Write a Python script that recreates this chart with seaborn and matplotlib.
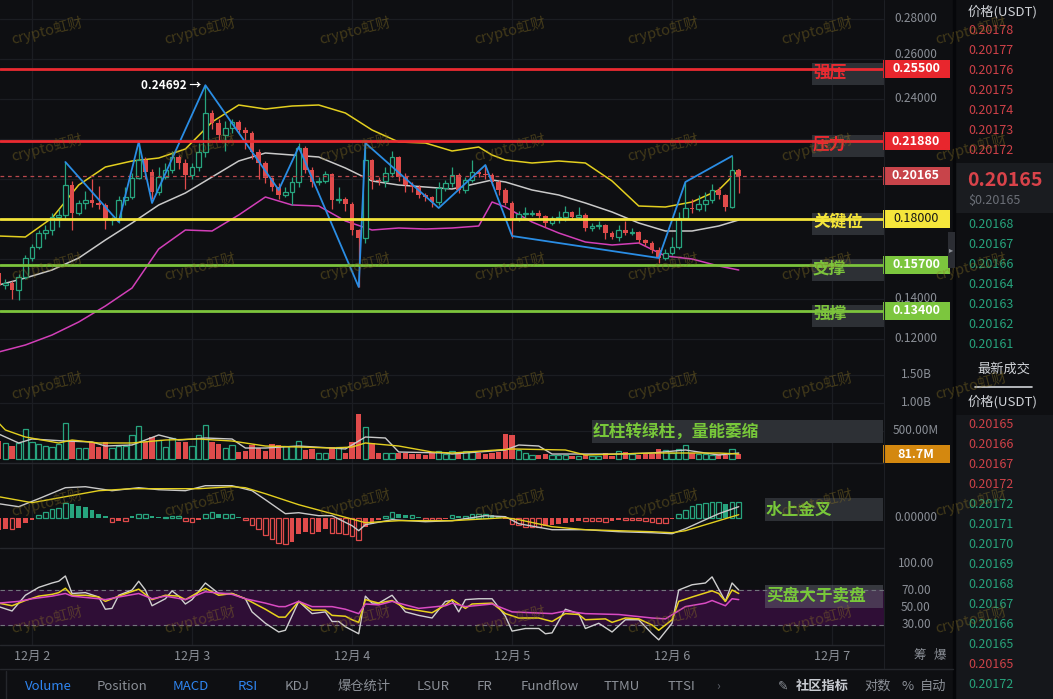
import matplotlib
matplotlib.use('Agg')
import matplotlib.pyplot as plt
import matplotlib.transforms as mtransforms
from matplotlib.patches import Rectangle
from matplotlib.lines import Line2D
import seaborn as sns

# ---------------- data ----------------
# hourly candles, index 0 = 12月1 19:00
first_open = 0.1530
closes = [0.1470, 0.1480, 0.1445, 0.1510, 0.1605, 0.1660, 0.1730, 0.1745, 0.1810, 0.1820,
          0.1970, 0.1830, 0.1880, 0.1895, 0.1880, 0.1870, 0.1795, 0.1800, 0.1895, 0.1910,
          0.2005, 0.2095, 0.2035, 0.1935, 0.2010, 0.2045, 0.2110, 0.2080, 0.2020, 0.2060,
          0.2135, 0.2330, 0.2280, 0.2220, 0.2255, 0.2285, 0.2245, 0.2230, 0.2135, 0.2080,
          0.2005, 0.1960, 0.1920, 0.1935, 0.1985, 0.2155, 0.2045, 0.1985, 0.1990, 0.2025,
          0.1895, 0.1900, 0.1875, 0.1745, 0.1705, 0.2095, 0.1995, 0.1990, 0.2030, 0.2110,
          0.2010, 0.1970, 0.1960, 0.1920, 0.1910, 0.1885, 0.1955, 0.1980, 0.2020, 0.1945,
          0.1995, 0.2035, 0.2025, 0.2020, 0.1985, 0.1945, 0.1880, 0.1805, 0.1825, 0.1827,
          0.1830, 0.1815, 0.1780, 0.1805, 0.1810, 0.1835, 0.1810, 0.1820, 0.1755, 0.1765,
          0.1770, 0.1730, 0.1710, 0.1745, 0.1730, 0.1735, 0.1695, 0.1680, 0.1645, 0.1605,
          0.1630, 0.1660, 0.1805, 0.1855, 0.1850, 0.1875, 0.1895, 0.1945, 0.1920, 0.1860,
          0.2045, 0.20165]
highs = [0.1545, 0.1500, 0.1490, 0.1525, 0.1620, 0.1675, 0.1745, 0.1770, 0.1830, 0.1850,
         0.2085, 0.1990, 0.1895, 0.1940, 0.2000, 0.1965, 0.1880, 0.1810, 0.1915, 0.1960,
         0.2030, 0.2185, 0.2110, 0.2050, 0.2060, 0.2080, 0.2140, 0.2120, 0.2100, 0.2080,
         0.2180, 0.2469, 0.2345, 0.2300, 0.2290, 0.2300, 0.2295, 0.2260, 0.2240, 0.2150,
         0.2090, 0.2010, 0.1980, 0.1960, 0.2010, 0.2180, 0.2165, 0.2060, 0.2010, 0.2040,
         0.2030, 0.1960, 0.1910, 0.1885, 0.1750, 0.2180, 0.2100, 0.2010, 0.2060, 0.2140,
         0.2115, 0.2030, 0.1985, 0.1970, 0.1930, 0.1915, 0.1985, 0.1995, 0.2060, 0.2030,
         0.2010, 0.2095, 0.2045, 0.2070, 0.2030, 0.1995, 0.1955, 0.1890, 0.1840, 0.1860,
         0.1845, 0.1845, 0.1820, 0.1815, 0.1840, 0.1865, 0.1840, 0.1860, 0.1830, 0.1780,
         0.1790, 0.1775, 0.1740, 0.1770, 0.1790, 0.1755, 0.1740, 0.1700, 0.1690, 0.1660,
         0.1650, 0.1710, 0.1835, 0.1985, 0.1900, 0.1920, 0.1935, 0.1975, 0.1960, 0.1925,
         0.2115, 0.2050]
lows = [0.1440, 0.1450, 0.1400, 0.1395, 0.1500, 0.1590, 0.1650, 0.1700, 0.1720, 0.1760,
        0.1800, 0.1745, 0.1820, 0.1850, 0.1860, 0.1850, 0.1750, 0.1770, 0.1780, 0.1870,
        0.1900, 0.2000, 0.2000, 0.1900, 0.1920, 0.2000, 0.2030, 0.2050, 0.1950, 0.2000,
        0.2040, 0.2110, 0.2250, 0.2190, 0.2140, 0.2230, 0.2230, 0.2150, 0.2100, 0.2000,
        0.1980, 0.1940, 0.1900, 0.1910, 0.1870, 0.1960, 0.2030, 0.1960, 0.1970, 0.1980,
        0.1850, 0.1880, 0.1840, 0.1720, 0.1460, 0.1680, 0.1950, 0.1970, 0.1960, 0.2010,
        0.1990, 0.1935, 0.1935, 0.1905, 0.1890, 0.1860, 0.1870, 0.1940, 0.1960, 0.1930,
        0.1930, 0.1985, 0.2010, 0.2000, 0.1970, 0.1920, 0.1870, 0.1705, 0.1790, 0.1800,
        0.1815, 0.1800, 0.1760, 0.1770, 0.1780, 0.1790, 0.1800, 0.1800, 0.1740, 0.1740,
        0.1750, 0.1700, 0.1700, 0.1690, 0.1720, 0.1720, 0.1680, 0.1665, 0.1630, 0.1580,
        0.1595, 0.1620, 0.1650, 0.1800, 0.1830, 0.1840, 0.1840, 0.1880, 0.1900, 0.1840,
        0.1855, 0.1930]
volumes_m = [321, 280, 232, 291, 530, 310, 268, 232, 209, 268,
             637, 339, 191, 191, 310, 220, 298, 202, 232, 232,
             429, 589, 310, 399, 339, 209, 369, 310, 310, 232,
             429, 607, 310, 268, 191, 250, 125, 134, 250, 191,
             134, 259, 250, 241, 232, 321, 161, 187, 116, 116,
             209, 209, 107, 304, 804, 566, 292, 116, 101, 101,
             107, 107, 89, 89, 80, 101, 143, 83, 143, 89,
             148, 143, 101, 89, 101, 120, 446, 423, 161, 101,
             71, 77, 89, 71, 71, 71, 59, 54, 71, 54,
             59, 101, 59, 143, 119, 83, 77, 89, 83, 173,
             161, 101, 173, 250, 101, 83, 83, 71, 83, 77,
             173, 81.7]

# BOLL bands read every few candles
band_idx = [0, 4, 8, 12, 16, 20, 24, 28, 32, 36, 40, 44, 48, 52, 56, 60, 64, 68,
            72, 74, 76, 80, 84, 88, 92, 96, 100, 104, 108, 111]
boll_upper = [0.1715, 0.1710, 0.1805, 0.1970, 0.2060, 0.2090, 0.2105, 0.2150, 0.2285, 0.2370,
              0.2350, 0.2365, 0.2370, 0.2330, 0.2245, 0.2185, 0.2180, 0.2140, 0.2160, 0.2120,
              0.2095, 0.2080, 0.2090, 0.2080, 0.1990, 0.1865, 0.1860, 0.1885, 0.1945, 0.2045]
boll_mid = [0.1470, 0.1505, 0.1545, 0.1605, 0.1695, 0.1780, 0.1870, 0.1930, 0.2010, 0.2090,
            0.2130, 0.2120, 0.2110, 0.2055, 0.1990, 0.1970, 0.1960, 0.1950, 0.1980, 0.1995,
            0.1985, 0.1945, 0.1920, 0.1880, 0.1835, 0.1780, 0.1740, 0.1740, 0.1765, 0.1795]
boll_lower = [0.1135, 0.1170, 0.1220, 0.1285, 0.1365, 0.1455, 0.1650, 0.1745, 0.1740, 0.1820,
              0.1910, 0.1870, 0.1865, 0.1790, 0.1745, 0.1755, 0.1750, 0.1755, 0.1765, 0.1885,
              0.1860, 0.1785, 0.1730, 0.1685, 0.1670, 0.1680, 0.1615, 0.1600, 0.1565, 0.1545]

zigzag_idx = [10, 18, 21, 23, 31, 42, 45, 54, 55, 66, 73, 77, 99, 103, 110]
zigzag_price = [0.2085, 0.1785, 0.2185, 0.1880, 0.2469, 0.1945, 0.2160, 0.1460, 0.2180,
                0.1855, 0.2070, 0.1715, 0.1605, 0.1985, 0.2115]

levels = [0.2550, 0.2188, 0.1800, 0.1570, 0.1340]
level_names = ['强压', '压力', '关键位', '支撑', '强撑']
level_colors = ['#ea2a31', '#ea2a31', '#f3e43a', '#7cc43c', '#7cc43c']

# volume moving averages (index, M)
vol_ma_white = [(0, 446), (3, 286), (5, 357), (10, 321), (14, 304), (16, 232), (20, 250),
                (24, 429), (27, 339), (31, 375), (35, 357), (37, 196), (40, 196), (45, 232),
                (50, 196), (52, 179), (55, 393), (58, 375), (60, 125), (67, 107), (68, 89),
                (76, 161), (78, 250), (81, 232), (83, 89), (93, 89), (98, 107), (103, 161),
                (108, 71), (111, 107)]
vol_ma_yellow = [(0, 643), (1, 518), (4, 393), (9, 286), (11, 339), (15, 286), (20, 286),
                 (25, 339), (30, 357), (35, 321), (40, 232), (45, 214), (50, 196), (53, 214),
                 (55, 286), (60, 232), (65, 125), (68, 107), (77, 179), (85, 161), (88, 71),
                 (98, 107), (108, 107), (111, 89)]

# MACD in units of 1e-4
macd_hist = [-12, -11, -11, -10, -5, -2, 3, 6, 9, 10,
             15, 14, 12, 11, 8, 4, 2, -4, -3, -3,
             2, 4, 4, 2, 1, 1, 2, 2, -3, -4,
             -2, 4, 6, 4, 4, 4, 1, -2, -7, -11,
             -17, -21, -25, -26, -24, -16, -14, -15, -14, -11,
             -15, -15, -16, -18, -22, -9, -6, -2, 2, 6,
             4, 3, 3, 1, -2, -2, -2, -1, 3, 2,
             2, 4, 4, 4, 3, 2, -1, -6, -7, -9,
             -9, -9, -8, -7, -6, -5, -4, -3, -3, -3,
             -3, -4, -3, -2, -2, -2, -2, -3, -4, -5,
             -5, -1, 4, 8, 12, 14, 15, 16, 16, 14,
             16, 16]
macd_dif = [(0, 14), (3, 11), (6, 19), (10, 30), (13, 31), (17, 27), (21, 30), (24, 28),
            (28, 27), (31, 32), (35, 32), (38, 27), (40, 18), (43, 4), (45, 5), (48, 2),
            (50, 2), (53, -8), (54, -13), (55, -7), (59, -2), (64, -4), (68, -3), (73, 2),
            (76, 1), (78, -6), (83, -12), (88, -12), (93, -14), (98, -15), (101, -16),
            (103, -11), (108, 4), (111, 11)]
macd_dea = [(0, 21), (5, 15), (10, 21), (15, 27), (20, 29), (25, 29), (30, 29), (35, 31),
            (37, 30), (40, 24), (45, 13), (50, 4), (55, -5), (60, -3), (68, -3), (76, 0),
            (78, -2), (83, -9), (88, -12), (93, -13), (98, -14), (101, -15), (103, -13),
            (108, -3), (111, 3)]

rsi_white = [(0, 51), (2, 46), (4, 64), (6, 73), (8, 78), (9, 80), (10, 86), (11, 66), (13, 67),
             (15, 62), (16, 48), (17, 49), (18, 64), (20, 70), (21, 80), (22, 70), (23, 52),
             (25, 60), (26, 69), (27, 63), (28, 54), (29, 59), (31, 78), (33, 66), (35, 66),
             (37, 60), (38, 45), (40, 32), (42, 22), (43, 24), (45, 57), (47, 43), (49, 45),
             (50, 34), (51, 34), (52, 28), (53, 24), (54, 20), (55, 63), (56, 55), (57, 55),
             (59, 64), (61, 45), (63, 41), (65, 38), (67, 57), (68, 58), (69, 45), (70, 59),
             (72, 60), (74, 60), (76, 40), (77, 23), (79, 26), (81, 26), (82, 20), (83, 21),
             (85, 48), (87, 43), (88, 26), (90, 32), (92, 22), (94, 36), (96, 36), (98, 20),
             (99, 13), (101, 32), (102, 70), (104, 76), (106, 78), (107, 85), (109, 57),
             (110, 78), (111, 70)]
rsi_yellow = [(0, 55), (2, 52), (4, 58), (6, 63), (8, 65), (9, 67), (10, 72), (11, 64), (13, 64),
              (15, 62), (16, 57), (18, 63), (21, 71), (23, 59), (25, 64), (27, 63), (28, 59),
              (31, 72), (33, 64), (35, 66), (37, 60), (40, 48), (42, 39), (43, 39), (45, 57),
              (47, 47), (49, 47), (50, 41), (52, 40), (53, 36), (54, 33), (55, 59), (57, 55),
              (59, 58), (61, 49), (65, 44), (67, 53), (68, 59), (70, 49), (71, 54), (74, 55),
              (76, 43), (78, 38), (81, 38), (83, 34), (85, 43), (87, 42), (88, 36), (91, 37),
              (92, 33), (94, 38), (96, 37), (98, 30), (99, 24), (101, 36), (102, 57), (104, 62),
              (107, 69), (108, 66), (109, 57), (110, 70), (111, 66)]
rsi_magenta = [(0, 55), (3, 57), (5, 60), (8, 63), (10, 66), (11, 63), (15, 60), (16, 59),
               (18, 62), (21, 66), (23, 60), (25, 63), (28, 59), (31, 68), (35, 65), (37, 60),
               (40, 55), (42, 51), (43, 51), (45, 57), (47, 51), (50, 51), (52, 48), (54, 43),
               (55, 54), (57, 53), (59, 57), (63, 49), (67, 52), (68, 55), (70, 51), (74, 54),
               (77, 45), (83, 43), (85, 46), (88, 43), (93, 42), (98, 38), (100, 37), (103, 51),
               (106, 55), (107, 58), (109, 52), (110, 60), (111, 59)]

day_idx = [5, 29, 53, 77, 101, 125]
day_labels = ['12月 2', '12月 3', '12月 4', '12月 5', '12月 6', '12月 7']

ask_prices = ['0.20178', '0.20177', '0.20176', '0.20175', '0.20174', '0.20173', '0.20172']
bid_prices = ['0.20168', '0.20167', '0.20166', '0.20164', '0.20163', '0.20162', '0.20161']
trade_prices = ['0.20165', '0.20166', '0.20167', '0.20172', '0.20172', '0.20171', '0.20170',
                '0.20169', '0.20168', '0.20167', '0.20166', '0.20165', '0.20165', '0.20172']
trade_sell = [True, True, True, True, False, False, False, False, False, False, False, False,
              True, False]

toolbar_items = ['Volume', 'Position', 'MACD', 'RSI', 'KDJ', '爆仓统计', 'LSUR', 'FR',
                 'Fundflow', 'TTMU', 'TTSI']
toolbar_active = ['Volume', 'MACD', 'RSI']

# ---------------- style ----------------
W, H = 1053, 699
PLOT_R = 884
BG = '#0e0f12'
GRID = '#1b1d22'
SEP = '#25272c'
UP = '#27a47e'
DOWN = '#e04b4b'
AXTXT = '#8b8f97'
BLUE = '#2f86f2'

sns.set_theme(style='dark', rc={'axes.facecolor': BG, 'figure.facecolor': BG})
plt.rcParams['font.family'] = ['Noto Sans CJK SC', 'DejaVu Sans']

fig = plt.figure(figsize=(W / 100, H / 100), dpi=100)
fig.patch.set_facecolor(BG)


def fx(x):
    return x / W


def fy(y):
    return 1 - y / H


def idx_of_px(x):
    return (x + 1.3) / 6.667


X_LO, X_HI = idx_of_px(0), idx_of_px(PLOT_R)


def panel(top, bottom, ylim):
    ax = fig.add_axes([0, fy(bottom), fx(PLOT_R), (bottom - top) / H])
    ax.set_facecolor(BG)
    ax.set_xlim(X_LO, X_HI)
    ax.set_ylim(*ylim)
    ax.set_xticks([])
    ax.set_yticks([])
    ax.grid(False)
    for sp in ax.spines.values():
        sp.set_visible(False)
    for d in day_idx:
        ax.axvline(d, color=GRID, lw=0.9, zorder=0)
    return ax


def px_to_data(ax, n_px):
    y0, y1 = ax.get_ylim()
    return n_px * (y1 - y0) / (ax.get_position().height * H)


def axis_label(ax, val, text, dy_pt=0):
    tr = mtransforms.blended_transform_factory(fig.transFigure, ax.transData)
    if dy_pt:
        tr = mtransforms.offset_copy(tr, fig=fig, y=dy_pt, units='points')
    ax.text(fx(916), val, text, transform=tr, ha='center', va='center', fontsize=8.5,
            color=AXTXT, clip_on=False, zorder=15)


def tag(ax, val, text, fc, tc='white', bold=True):
    tr = mtransforms.blended_transform_factory(fig.transFigure, ax.transData)
    h = px_to_data(ax, 18)
    ax.add_patch(Rectangle((fx(883), val - h / 2), fx(67), h, transform=tr, fc=fc, ec='none',
                           clip_on=False, zorder=20))
    ax.text(fx(916), val, text, transform=tr, ha='center', va='center', color=tc, fontsize=9,
            fontweight='bold' if bold else 'normal', clip_on=False, zorder=21)


def note_box(x0, y0, x1, y1, text, color, fc='#2d3035', alpha=1.0):
    fig.patches.append(Rectangle((fx(x0), fy(y1)), fx(x1 - x0), (y1 - y0) / H,
                                 transform=fig.transFigure, fc=fc, ec='none', alpha=alpha,
                                 zorder=30))
    fig.text(fx(x0 + 1), fy((y0 + y1) / 2), text, color=color, fontsize=12, fontweight='bold',
             ha='left', va='center', zorder=31)


def hline_fig(y, x0, x1, color=SEP, lw=1.0):
    fig.add_artist(Line2D([fx(x0), fx(x1)], [fy(y), fy(y)], color=color, lw=lw, zorder=40))


n = len(closes)
idx = list(range(n))
opens = [first_open] + closes[:-1]
is_up = [c >= o for o, c in zip(opens, closes)]

# ---------------- price panel ----------------
ax_p = panel(0, 358, (0.1105, 0.2895))
for v in [0.12, 0.14, 0.16, 0.18, 0.20, 0.22, 0.24, 0.26, 0.28]:
    ax_p.axhline(v, color=GRID, lw=0.9, zorder=0)

sns.lineplot(x=band_idx, y=boll_upper, ax=ax_p, color='#e3cf1f', lw=1.1, zorder=2)
sns.lineplot(x=band_idx, y=boll_mid, ax=ax_p, color='#c9c9c9', lw=1.1, zorder=2)
sns.lineplot(x=band_idx, y=boll_lower, ax=ax_p, color='#d23fb8', lw=1.1, zorder=2)

for i in idx:
    col = UP if is_up[i] else DOWN
    ax_p.vlines(i, lows[i], highs[i], color=col, lw=0.9, zorder=3)
    body = max(abs(closes[i] - opens[i]), 0.0005)
    bottom = min(opens[i], closes[i])
    if is_up[i]:
        ax_p.bar(i, body, bottom=bottom, width=0.72, facecolor=BG, edgecolor=col, lw=0.9,
                 zorder=4)
    else:
        ax_p.bar(i, body, bottom=bottom, width=0.72, color=col, lw=0, zorder=4)

sns.lineplot(x=zigzag_idx, y=zigzag_price, ax=ax_p, color='#2a8de4', lw=1.3, zorder=6,
             sort=False)
ax_p.annotate('0.24692 →', xy=(zigzag_idx[4], zigzag_price[4]), xytext=(-3, 0),
              textcoords='offset points', ha='right', va='center', color='white',
              fontsize=8.5, fontweight='bold', zorder=8)

# level lines with labels
box_x0 = idx_of_px(812)
for lv, name, col in zip(levels, level_names, level_colors):
    ax_p.add_patch(Rectangle((box_x0, lv - px_to_data(ax_p, 16)), X_HI - box_x0,
                             px_to_data(ax_p, 22), fc='#2d3035', ec='none', zorder=5))
    ax_p.axhline(lv, color=col, lw=2, zorder=7)
    ax_p.text(idx_of_px(813), lv - px_to_data(ax_p, 3), name, color=col, fontsize=12,
              fontweight='bold', ha='left', va='center', zorder=9)

ax_p.axhline(closes[-1], color='#b8474c', lw=0.9, ls=(0, (3, 3)), zorder=5)

# the 0.22 / 0.20 / 0.18 / 0.16 tick texts sit under the price tags
for v in [0.28, 0.24, 0.14, 0.12]:
    axis_label(ax_p, v, f'{v:.5f}')
axis_label(ax_p, 0.26, '0.26000', dy_pt=3)
tag(ax_p, levels[0], '0.25500', '#e8262d')
tag(ax_p, levels[1], '0.21880', '#e8262d')
tag(ax_p, closes[-1], '0.20165', '#c8444a')
tag(ax_p, levels[2], '0.18000', '#f5e63b', tc='#151515', bold=False)
tag(ax_p, levels[3], '0.15700', '#7cc63e')
tag(ax_p, levels[4], '0.13400', '#7cc63e')

# ---------------- volume panel ----------------
ax_v = panel(358, 463, ((459 - 463) * 500 / 28, (459 - 358) * 500 / 28))
for v in [500, 1000, 1500]:
    ax_v.axhline(v, color=GRID, lw=0.9, zorder=0)
for i in idx:
    if is_up[i]:
        ax_v.bar(i, volumes_m[i], width=0.78, facecolor=BG, edgecolor=UP, lw=0.9, zorder=3)
    else:
        ax_v.bar(i, volumes_m[i], width=0.78, color=DOWN, lw=0, zorder=3)
sns.lineplot(x=[p[0] for p in vol_ma_white], y=[p[1] for p in vol_ma_white], ax=ax_v,
             color='#c9c9c9', lw=1.0, zorder=4)
sns.lineplot(x=[p[0] for p in vol_ma_yellow], y=[p[1] for p in vol_ma_yellow], ax=ax_v,
             color='#e3cf1f', lw=1.0, zorder=4)
axis_label(ax_v, 1500, '1.50B')
axis_label(ax_v, 1000, '1.00B')
axis_label(ax_v, 500, '500.00M')
tag(ax_v, volumes_m[-1], '81.7M', '#d4880f')

# ---------------- MACD panel ----------------
ax_m = panel(463, 548, ((517.7 - 548) * 1e-4, (517.7 - 463) * 1e-4))
for i in idx:
    h = macd_hist[i] * 1e-4
    col = UP if macd_hist[i] > 0 else DOWN
    grow = i > 0 and abs(macd_hist[i]) >= abs(macd_hist[i - 1])
    if grow:
        ax_m.bar(i, h, width=0.72, facecolor=BG, edgecolor=col, lw=0.9, zorder=3)
    else:
        ax_m.bar(i, h, width=0.72, color=col, lw=0, zorder=3)
sns.lineplot(x=[p[0] for p in macd_dif], y=[p[1] * 1e-4 for p in macd_dif], ax=ax_m,
             color='#c9c9c9', lw=1.0, zorder=4)
sns.lineplot(x=[p[0] for p in macd_dea], y=[p[1] * 1e-4 for p in macd_dea], ax=ax_m,
             color='#e3cf1f', lw=1.0, zorder=4)
axis_label(ax_m, 0, '0.00000')

# ---------------- RSI panel ----------------
ax_r = panel(548, 645, (70 - 55 / 0.875, 70 + 42 / 0.875))
ax_r.axhspan(30, 70, color='#2f0e36', zorder=0)
for v in [70, 30]:
    ax_r.axhline(v, color='#72757c', lw=0.8, ls=(0, (4, 3)), zorder=1)
sns.lineplot(x=[p[0] for p in rsi_white], y=[p[1] for p in rsi_white], ax=ax_r,
             color='#d0d0d0', lw=1.0, zorder=4)
sns.lineplot(x=[p[0] for p in rsi_yellow], y=[p[1] for p in rsi_yellow], ax=ax_r,
             color='#e8d21c', lw=1.1, zorder=5)
sns.lineplot(x=[p[0] for p in rsi_magenta], y=[p[1] for p in rsi_magenta], ax=ax_r,
             color='#d94bc2', lw=1.1, zorder=6)
for v in [100, 70, 50, 30]:
    axis_label(ax_r, v, f'{v:.2f}')

tr_dates = mtransforms.blended_transform_factory(ax_r.transData, fig.transFigure)
for d, lab in zip(day_idx, day_labels):
    ax_r.text(d, fy(656), lab, transform=tr_dates, ha='center', va='center', fontsize=9,
              color=AXTXT, clip_on=False)
fig.text(fx(913), fy(656), '筹', fontsize=9, color=AXTXT, ha='left', va='center')
fig.text(fx(934), fy(656), '爆', fontsize=9, color=AXTXT, ha='left', va='center')

# annotation boxes in lower panels
note_box(592, 420, 883, 443, '红柱转绿柱，量能萎缩', '#78c83a')
note_box(765, 498, 883, 521, '水上金叉', '#78c83a')
note_box(765, 585, 883, 608, '买盘大于卖盘', '#78c83a', fc='#6a6d78', alpha=0.45)

# separators
for y in [463, 548, 645]:
    hline_fig(y, 0, PLOT_R)
hline_fig(669, 0, 953)
fig.add_artist(Line2D([fx(884), fx(884)], [fy(0), fy(669)], color='#1d1f24', lw=0.8))
fig.add_artist(Line2D([fx(953.5), fx(953.5)], [0, 1], color='#06070a', lw=2.5))

# ---------------- toolbar ----------------
fig.add_artist(Line2D([fx(5.5), fx(5.5)], [fy(671), fy(699)], color=SEP, lw=1))
tool_x = [25, 97, 173, 238, 285, 337, 417, 477, 521, 604, 668]
for name, x in zip(toolbar_items, tool_x):
    fig.text(fx(x), fy(686), name, fontsize=9.5, ha='left', va='center',
             color=BLUE if name in toolbar_active else AXTXT)
fig.text(fx(716), fy(686), '›', fontsize=9, ha='left', va='center', color='#5c6068')
fig.text(fx(778), fy(686), '✎', fontsize=9, ha='left', va='center', color=AXTXT)
fig.text(fx(796), fy(686), '社区指标', fontsize=9.5, fontweight='bold', ha='left', va='center',
         color='#c9ccd2')
fig.text(fx(864), fy(686), '对数', fontsize=9.5, ha='left', va='center', color=AXTXT)
fig.text(fx(901), fy(686), '%', fontsize=9.5, ha='left', va='center', color=AXTXT)
fig.text(fx(920), fy(686), '自动', fontsize=9.5, ha='left', va='center', color=AXTXT)

# ---------------- order book ----------------
OB_RED = '#cf4148'
OB_GREEN = '#26a37c'
fig.patches.append(Rectangle((fx(955), fy(213)), fx(98), 50 / H, transform=fig.transFigure,
                             fc='#1a1c20', ec='none', zorder=1))
fig.patches.append(Rectangle((fx(955), 0), fx(98), fy(415), transform=fig.transFigure,
                             fc='#15171b', ec='none', zorder=1))
fig.patches.append(Rectangle((fx(948), fy(268)), fx(7), 36 / H, transform=fig.transFigure,
                             fc='#2b2d33', ec='none', zorder=2))
fig.text(fx(951.5), fy(250), '▸', fontsize=6, color='#8b8f97', ha='center', va='center',
         zorder=3)
fig.text(fx(968), fy(12), '价格(USDT)', fontsize=9.5, color='#d0d3d8', ha='left', va='center')
for k, p in enumerate(ask_prices):
    fig.text(fx(968), fy(31 + 20 * k), p, fontsize=9, color=OB_RED, ha='left', va='center')
fig.text(fx(967), fy(181), '0.20165', fontsize=14, fontweight='bold', color='#d9434a',
         ha='left', va='center', zorder=3)
fig.text(fx(968), fy(201), '$0.20165', fontsize=9, color='#6b6f77', ha='left', va='center',
         zorder=3)
for k, p in enumerate(bid_prices):
    fig.text(fx(968), fy(224 + 20 * k), p, fontsize=9, color=OB_GREEN, ha='left', va='center')
fig.text(fx(1004), fy(369), '最新成交', fontsize=9.5, color='#d0d3d8', ha='center',
         va='center')
fig.add_artist(Line2D([fx(975), fx(1032)], [fy(387), fy(387)], color='#d0d3d8', lw=1.2))
fig.text(fx(968), fy(402), '价格(USDT)', fontsize=9.5, color='#d0d3d8', ha='left',
         va='center')
for k, (p, sell) in enumerate(zip(trade_prices, trade_sell)):
    fig.text(fx(968), fy(425 + 20 * k), p, fontsize=9, color=OB_RED if sell else OB_GREEN,
             ha='left', va='center', zorder=3)

# ---------------- watermarks ----------------
for wy in [31, 148, 267, 386, 503, 620]:
    for wx in [47, 200, 355, 510, 663, 817, 971]:
        fig.text(fx(wx), fy(wy), 'crypto虹财', rotation=14, fontsize=10.5, color='#8a7424',
                 alpha=0.42, ha='center', va='center', zorder=100)

fig.savefig('out.png', dpi=100, facecolor=BG)
